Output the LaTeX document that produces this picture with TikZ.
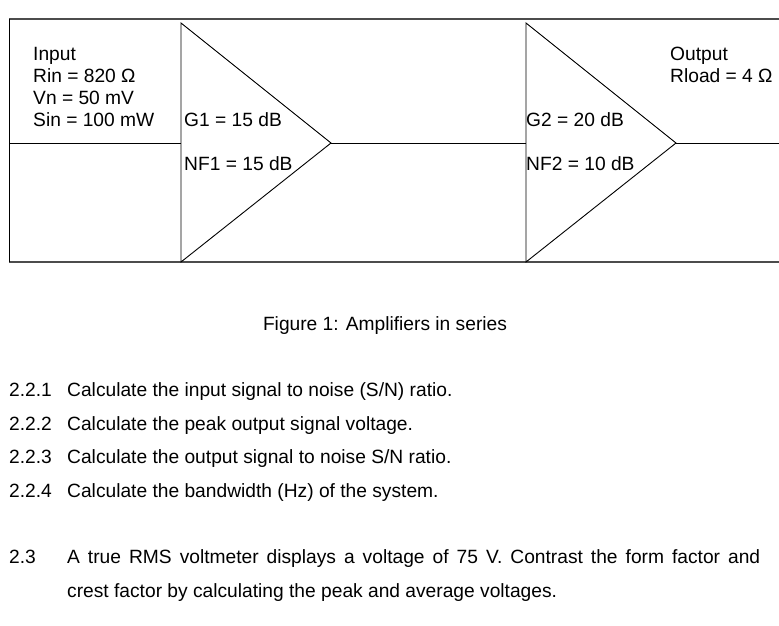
\documentclass[tikz,border=0pt]{standalone}
\usepackage{fontspec}
\setmainfont{Liberation Sans}
\begin{document}
\begin{tikzpicture}[x=1pt,y=-1pt,
  txt/.style={anchor=base west,inner sep=0pt,font=\fontsize{19.2}{22}\selectfont},
  ln/.style={draw=black,line width=0.9pt}]
\useasboundingbox (0,0) rectangle (779,626);
\coordinate (tl) at (9,19); \coordinate (tr) at (779,19);
\coordinate (bl) at (9,262); \coordinate (br) at (779,262);
\draw[ln,draw=black!70,line width=1.3pt] (tl) -- (tr);
\draw[ln,draw=black!70,line width=1.3pt] (bl) -- (br);
\draw[ln] (tl) -- (bl);
\coordinate (a1t) at (181,23); \coordinate (a1b) at (181,262); \coordinate (a1o) at (331,143);
\coordinate (a2t) at (526,23); \coordinate (a2b) at (526,262); \coordinate (a2o) at (676,143);
\draw[ln] (a1t) -- (a1o) -- (a1b) -- cycle;
\draw[ln] (a2t) -- (a2o) -- (a2b) -- cycle;
\coordinate (m0) at (9,143); \coordinate (m1) at (181,143); \coordinate (m2) at (526,143); \coordinate (m3) at (779,143);
\draw[ln] (m0) -- (m1); \draw[ln] (a1o) -- (m2); \draw[ln] (a2o) -- (m3);
\node[txt] (in1) at (33,60) {Input};
\node[txt] (in2) at (33,82) {Rin = 820 Ω};
\node[txt] (in3) at (33,104) {Vn = 50 mV};
\node[txt] (in4) at (33,126) {Sin = 100 mW};
\node[txt] (g1) at (184,126) {G1 = 15 dB};
\node[txt] (nf1) at (184,170) {NF1 = 15 dB};
\node[txt] (g2) at (526,126) {G2 = 20 dB};
\node[txt] (nf2) at (526,170) {NF2 = 10 dB};
\node[txt] (out1) at (670,60) {Output};
\node[txt] (out2) at (670,82) {Rload = 4 Ω};
\node[txt,anchor=base] (cap) at (385,330) {Figure 1: Amplifiers in series};
\node[txt] (n1) at (9,396) {2.2.1}; \node[txt] (t1) at (67,396) {Calculate the input signal to noise (S/N) ratio.};
\node[txt] (n2) at (9,430) {2.2.2}; \node[txt] (t2) at (67,430) {Calculate the peak output signal voltage.};
\node[txt] (n3) at (9,463) {2.2.3}; \node[txt] (t3) at (67,463) {Calculate the output signal to noise S/N ratio.};
\node[txt] (n4) at (9,497) {2.2.4}; \node[txt] (t4) at (67,497) {Calculate the bandwidth (Hz) of the system.};
\node[txt] (n5) at (9,563) {2.3};
\node[txt] (t5) at (67,563) {\makebox[693pt][s]{A true RMS voltmeter displays a voltage of 75 V. Contrast the form factor and}};
\node[txt] (t6) at (67,597) {crest factor by calculating the peak and average voltages.};
\end{tikzpicture}
\end{document}
